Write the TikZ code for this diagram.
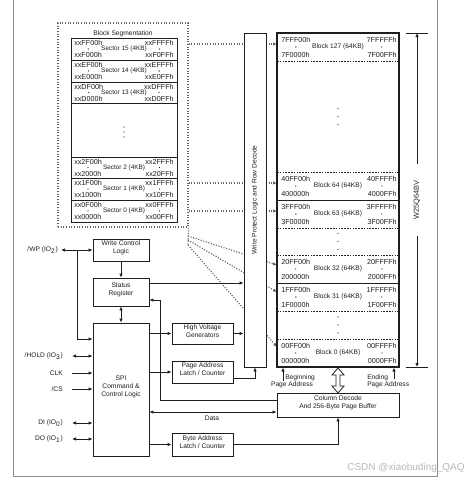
\documentclass[tikz,border=0pt]{standalone}
\usepackage{fontspec}
\setmainfont{Liberation Sans}
\usetikzlibrary{arrows.meta,fit,calc}
\definecolor{ink}{HTML}{1E1E1E}
\definecolor{dotc}{HTML}{666666}
\definecolor{framec}{HTML}{8C8C8C}
\begin{document}
\begin{tikzpicture}[x=0.75pt,y=-0.75pt,
  every node/.style={font=\fontsize{5}{6}\selectfont, inner sep=0pt, text=ink},
  hex/.style={font=\fontsize{5.4}{6}\selectfont},
  secname/.style={font=\fontsize{4.8}{6}\selectfont},
  box/.style={draw=ink, line width=0.6pt, fill=white, align=center, inner sep=0pt},
  ln/.style={draw=ink, line width=0.6pt},
  arr/.style={ln, -{Latex[length=3pt,width=2.6pt]}},
  darr/.style={ln, {Latex[length=3pt,width=2.6pt]}-{Latex[length=3pt,width=2.6pt]}},
  dotl/.style={draw=dotc, line width=0.9pt, dash pattern=on 0.8pt off 1.2pt},
  dotarr/.style={dotl, -{Latex[length=3pt,width=2.6pt]}},
  sepl/.style={draw=ink, line width=0.5pt, dash pattern=on 1.2pt off 0.9pt},
]
\useasboundingbox (0,0) rectangle (474,479);
% outer frame
\draw[framec, line width=0.7pt] (13,0) -- (13,476) -- (437,476) -- (437,0);

% block segmentation
\node[dotl, fit={(58,23) (188,227)}, inner sep=0pt] (seg) {};
\coordinate (segtail) at (188,245);
\draw[dotl] (seg.south east) -- (segtail);
\node (segtitle) at (123,34) {Block Segmentation};
\foreach \t/\b/\s/\pa/\pb/\pc/\pd in {
  38/60/15/xxFF00h/xxF000h/xxFFFFh/xxF0FFh,
  60/82/14/xxEF00h/xxE000h/xxEFFFh/xxE0FFh,
  82/103/13/xxDF00h/xxD000h/xxDFFFh/xxD0FFh,
  157/178/2/xx2F00h/xx2000h/xx2FFFh/xx20FFh,
  178/200/1/xx1F00h/xx1000h/xx1FFFh/xx10FFh,
  200/222/0/xx0F00h/xx0000h/xx0FFFh/xx00FFh}{
  \node[box, fit={(71,\t) (177,\b)}] (sec\s) {};
  \node[secname] (sec\s name) at (sec\s.center) {Sector \s\ (4KB)};
  \node[hex, anchor=west] (sec\s lt) at (74,{(\t+\b)/2-6}) {\pa};
  \node[hex, anchor=west] (sec\s lb) at (74,{(\t+\b)/2+6}) {\pb};
  \node[hex, anchor=east] (sec\s rt) at (174,{(\t+\b)/2-6}) {\pc};
  \node[hex, anchor=east] (sec\s rb) at (174,{(\t+\b)/2+6}) {\pd};
  \fill[ink] (sec\s lt.center |- sec\s.center) circle (0.5pt);
  \fill[ink] (sec\s rt.center |- sec\s.center) circle (0.5pt);
}
\node[box, fit={(71,103) (177,157)}] (secgap) {};
\foreach \y in {127,132,137} \fill[ink] (124,\y) circle (0.55pt);

% dotted mapping lines
\coordinate (d127) at (277,44);
\coordinate (d64) at (277,183);
\coordinate (d63) at (277,211);
\coordinate (d32) at (277,265);
\coordinate (d31) at (277,292);
\coordinate (d0) at (277,347);
\coordinate (f32) at (188,236);
\coordinate (f31) at (188,240);
\draw[dotarr] (seg.east |- d127) -- (d127);
\draw[dotarr] (seg.east |- d64) -- (d64);
\draw[dotarr] (seg.east |- d63) -- (d63);
\draw[dotarr] (f32) -- (d32);
\draw[dotarr] (f31) -- (d31);
\draw[dotarr] (segtail) -- (d0);

% write protect box
\node[box, fit={(244,33) (266,367)}] (wp) {};
\node[rotate=90] (wptext) at (wp.center) {Write Protect Logic and Row Decode};

% memory array
\node[draw=ink, line width=0.8pt, fit={(277,33) (399,367)}, inner sep=0pt] (arr) {};
\foreach \y in {61,172,228,255,311,339} \draw[sepl] (277,\y) -- (399,\y);
\foreach \y in {200,283} \draw[ln] (277,\y) -- (399,\y);
\foreach \t/\b/\s/\pa/\pb/\pc/\pd in {
  33/61/127/7FFF00h/7F0000h/7FFFFFh/7F00FFh,
  172/200/64/40FF00h/400000h/40FFFFh/4000FFh,
  200/228/63/3FFF00h/3F0000h/3FFFFFh/3F00FFh,
  255/283/32/20FF00h/200000h/20FFFFh/2000FFh,
  283/311/31/1FFF00h/1F0000h/1FFFFFh/1F00FFh,
  339/367/0/00FF00h/000000h/00FFFFh/0000FFh}{
  \coordinate (blk\s) at (338,{(\t+\b)/2});
  \node (blk\s name) at (blk\s) {Block \s\ (64KB)};
  \node[hex, anchor=west] (blk\s lt) at (281,{(\t+\b)/2-7.5}) {\pa};
  \node[hex, anchor=west] (blk\s lb) at (281,{(\t+\b)/2+7.5}) {\pb};
  \node[hex, anchor=east] (blk\s rt) at (397,{(\t+\b)/2-7.5}) {\pc};
  \node[hex, anchor=east] (blk\s rb) at (397,{(\t+\b)/2+7.5}) {\pd};
  \fill[ink] (blk\s lt.center |- blk\s) circle (0.5pt);
  \fill[ink] (blk\s rt.center |- blk\s) circle (0.5pt);
}
\foreach \y in {108.5,116.5,124.5,233.5,241.5,249.5,317,325,333} \fill[ink] (338,\y) circle (0.55pt);

% size dimension
\coordinate (dimT) at (417,33);
\coordinate (dimB) at (417,367);
\draw[ln] (406,33) -- (428,33);
\draw[ln] (406,367) -- (428,367);
\node[rotate=90, font=\fontsize{5.5}{6}\selectfont] (dimtxt) at (417,200) {W25Q64BV};
\coordinate (gapT) at (417,164);
\coordinate (gapB) at (417,236);
\draw[arr] (gapT) -- (dimT);
\draw[arr] (gapB) -- (dimB);

% beginning / ending page address
\coordinate (begx) at (283,381);
\draw[arr] (begx) -- (begx |- arr.south);
\node[anchor=west] (begtxt) at (285,378) {Beginning};
\node (begtxt2) at (292,385) {Page Address};
\coordinate (endx) at (394,379);
\draw[arr] (endx) -- (endx |- arr.south);
\node[anchor=west] (endtxt) at (367,378) {Ending};
\node[anchor=west] (endtxt2) at (367,385) {Page Address};

% column decode
\node[box, fit={(277,393) (399,417)}] (col) {Column Decode\\And 256-Byte Page Buffer};
\draw[ink, line width=0.6pt, fill=white] (338,368) -- (332,375) -- (336,375) -- (336,386) -- (332,386) -- (338,393)
  -- (344,386) -- (340,386) -- (340,375) -- (344,375) -- cycle;

% control blocks
\node[box, fit={(93,239) (149,261)}] (wcl) {Write Control\\Logic};
\node[box, fit={(93,278) (149,306)}] (sr) {Status\\Register};
\node[box, fit={(93,323) (149,456)}] (spi) {SPI\\Command \&\\Control Logic};
\node[box, fit={(172,323) (233,344)}] (hv) {High Voltage\\Generators};
\node[box, fit={(172,361) (233,383)}] (pal) {Page Address\\Latch / Counter};
\node[box, fit={(172,433) (233,456)}] (bal) {Byte Address\\Latch / Counter};

\draw[arr] (wcl) -- (sr);
\draw[darr] (sr) -- (spi);
\coordinate (c283) at (0,283);
\draw[arr] (sr.east |- c283) -- (wp.west |- c283);
\coordinate (c300) at (0,300);
\coordinate (c400) at (160,400);
\draw[arr] (col.west |- c400) -- (c400) -- (c400 |- c300) -- (sr.east |- c300);
\coordinate (c412) at (0,412);
\draw[darr] (spi.east |- c412) -- (col.west |- c412);
\node (datalbl) at (212,418) {Data};
\draw[arr] (spi.east |- hv.west) -- (hv.west);
\draw[arr] (hv.east) -- (wp.west |- hv.east);
\draw[arr] (spi.east |- pal.west) -- (pal.west);
\coordinate (c378) at (255,378);
\draw[arr] (pal.east |- c378) -- (c378) -- (wp.south);
\draw[arr] (spi.east |- bal.west) -- (bal.west);
\coordinate (c445) at (338,444.5);
\draw[arr] (bal.east) -- (c445) -- (c445 |- col.south);

% pins
\node[anchor=east] (pwp) at (58,250) {/WP (IO\textsubscript{2})};
\coordinate (pwpe) at (61,250);
\coordinate (jwp) at (77,250);
\coordinate (jwp2) at (77,339);
\draw[darr] (pwpe) -- (wcl.west |- pwpe);
\draw[arr] (jwp) -- (jwp2) -- (spi.west |- jwp2);
\foreach \nm/\y/\lab/\st in {hold/356/{/HOLD (IO\textsubscript{3})}/darr, clk/373/CLK/arr, cs/389/{/CS}/arr, di/423/{DI (IO\textsubscript{0})}/darr, do/439/{DO (IO\textsubscript{1})}/darr}{
  \node[anchor=east] (p\nm) at (63,\y) {\lab};
  \coordinate (p\nm e) at (72,\y);
  \draw[\st] (p\nm e) -- (spi.west |- p\nm e);
}

% watermark
\node[text=black!28, font=\fontsize{7.5}{9}\selectfont] (wm) at (406,468) {CSDN @xiaobuding\_QAQ};
\end{tikzpicture}
\end{document}
